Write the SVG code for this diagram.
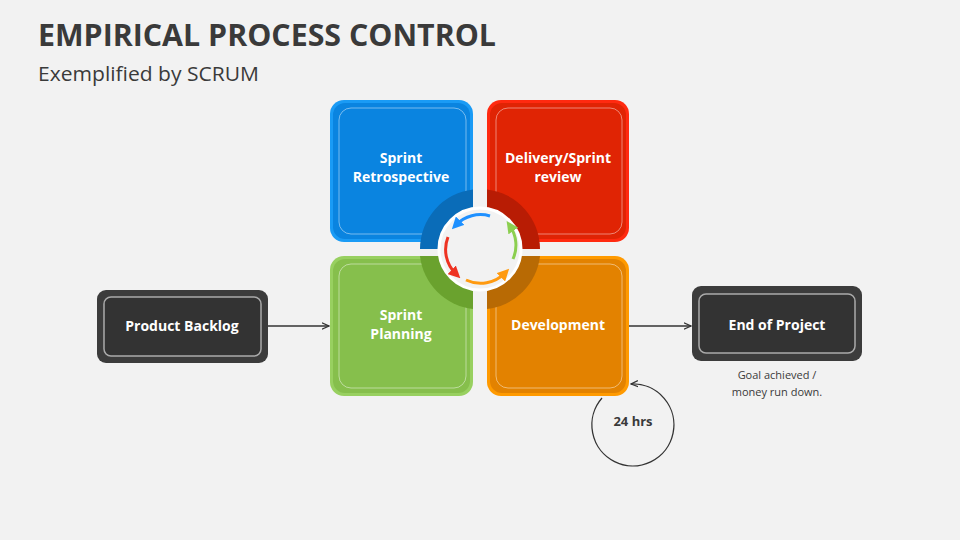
<svg xmlns="http://www.w3.org/2000/svg" width="960" height="540" viewBox="0 0 960 540">
<defs>
<style>
.t{font-family:"Open Sans","Liberation Sans",sans-serif;font-weight:bold;fill:#fff;font-size:14px;text-anchor:middle}
.in{fill:none;stroke:#fff;stroke-opacity:.45;stroke-width:1}
.c{stroke:#333;stroke-width:1.3;fill:none}
</style>
<marker id="a" viewBox="0 0 10 10" refX="9" refY="5" markerWidth="6" markerHeight="6" orient="auto"><path d="M0,1 L9,5 L0,9" fill="none" stroke="#333" stroke-width="1.5"/></marker>
<marker id="ab" viewBox="0 0 10 10" refX="5" refY="5" markerWidth="4" markerHeight="4" orient="auto"><path d="M0,0 L10,5 L0,10z" fill="#1e90ff"/></marker>
<marker id="ar" viewBox="0 0 10 10" refX="5" refY="5" markerWidth="4" markerHeight="4" orient="auto"><path d="M0,0 L10,5 L0,10z" fill="#ee3322"/></marker>
<marker id="ao" viewBox="0 0 10 10" refX="5" refY="5" markerWidth="4" markerHeight="4" orient="auto"><path d="M0,0 L10,5 L0,10z" fill="#ff9a10"/></marker>
<marker id="ag" viewBox="0 0 10 10" refX="5" refY="5" markerWidth="4" markerHeight="4" orient="auto"><path d="M0,0 L10,5 L0,10z" fill="#8ccf50"/></marker>
</defs>
<rect width="960" height="540" fill="#f2f2f2"/>
<text x="38" y="46" font-family="'Open Sans','Liberation Sans',sans-serif" font-weight="bold" font-size="30" textLength="458" lengthAdjust="spacingAndGlyphs" fill="#3a3a3a">EMPIRICAL PROCESS CONTROL</text>
<text x="38" y="81" font-family="'Open Sans','Liberation Sans',sans-serif" font-size="20" textLength="221" lengthAdjust="spacingAndGlyphs" fill="#3a3a3a">Exemplified by SCRUM</text>
<g id="connectors">
<line class="c" x1="268" y1="326" x2="329" y2="326" marker-end="url(#a)"/>
<line class="c" x1="629" y1="326" x2="691" y2="326" marker-end="url(#a)"/>
<path class="c" d="M602,398 A41,41 0 1 0 631,384" marker-end="url(#a)" stroke-width="1"/>
</g>
<g id="retro">
<rect x="330" y="100" width="143" height="142" rx="14" fill="#1a9bf5"/>
<rect x="333" y="103" width="137" height="136" rx="12" fill="#0a84e0"/>
<rect x="339" y="108" width="127" height="126" rx="12" class="in"/>
<path d="M480,249 L420,249 A60,60 0 0 1 473,189.5 L473,249z" fill="#0a6cb8"/>
<text class="t" x="401" y="163">Sprint</text><text class="t" x="401" y="182">Retrospective</text>
</g>
<g id="review">
<rect x="487" y="100" width="142" height="142" rx="14" fill="#ff2a10"/>
<rect x="490" y="103" width="136" height="136" rx="12" fill="#e02404"/>
<rect x="496" y="108" width="126" height="126" rx="12" class="in"/>
<path d="M487,189.5 A60,60 0 0 1 540,249 L487,249z" fill="#b81c04"/>
<text class="t" x="558" y="163">Delivery/Sprint</text><text class="t" x="558" y="182">review</text>
</g>
<g id="planning">
<rect x="330" y="256" width="143" height="140" rx="14" fill="#98d060"/>
<rect x="333" y="259" width="137" height="134" rx="12" fill="#86bf4c"/>
<rect x="339" y="264" width="127" height="124" rx="12" class="in"/>
<path d="M420,256 A60,60 0 0 0 473,309 L473,256z" fill="#6aa22e"/>
<text class="t" x="401" y="320">Sprint</text><text class="t" x="401" y="339">Planning</text>
</g>
<g id="development">
<rect x="487" y="256" width="142" height="140" rx="14" fill="#ff9a00"/>
<rect x="490" y="259" width="136" height="134" rx="12" fill="#e38200"/>
<rect x="496" y="264" width="126" height="124" rx="12" class="in"/>
<path d="M540,256 A60,60 0 0 1 487,309 L487,256z" fill="#b86a04"/>
<text class="t" x="558" y="330">Development</text>
</g>
<g id="cycle">
<circle cx="480" cy="249" r="41" fill="#f2f2f2" stroke="#fff" stroke-width="3"/>
<path d="M490,216 A34,34 0 0 0 456,225" fill="none" stroke="#1e90ff" stroke-width="3" marker-end="url(#ab)"/>
<path d="M448,237 A34,34 0 0 0 456,274" fill="none" stroke="#ee3322" stroke-width="3" marker-end="url(#ar)"/>
<path d="M466,280 A34,34 0 0 0 505,273" fill="none" stroke="#ff9a10" stroke-width="3" marker-end="url(#ao)"/>
<path d="M513,259 A34,34 0 0 0 510,226" fill="none" stroke="#8ccf50" stroke-width="3" marker-end="url(#ag)"/>
</g>
<g id="backlog">
<rect x="97" y="290" width="171" height="73" rx="9" fill="#3c3c3c"/>
<rect x="104" y="297" width="157" height="59" rx="7" fill="#333" stroke="#aaa" stroke-width="1.5"/>
<text class="t" x="182" y="331">Product Backlog</text>
</g>
<g id="end">
<rect x="692" y="286" width="170" height="75" rx="9" fill="#3c3c3c"/>
<rect x="699" y="294" width="156" height="59" rx="7" fill="#333" stroke="#aaa" stroke-width="1.5"/>
<text class="t" x="777" y="330">End of Project</text>
<text x="777" y="379" font-family="'Open Sans','Liberation Sans',sans-serif" font-size="11" fill="#3a3a3a" text-anchor="middle">Goal achieved /</text>
<text x="777" y="396" font-family="'Open Sans','Liberation Sans',sans-serif" font-size="11" fill="#3a3a3a" text-anchor="middle">money run down.</text>
</g>
<g id="hrs">
<text x="633" y="426" font-family="'Open Sans','Liberation Sans',sans-serif" font-weight="bold" font-size="13" fill="#3a3a3a" text-anchor="middle">24 hrs</text>
</g>
</svg>
